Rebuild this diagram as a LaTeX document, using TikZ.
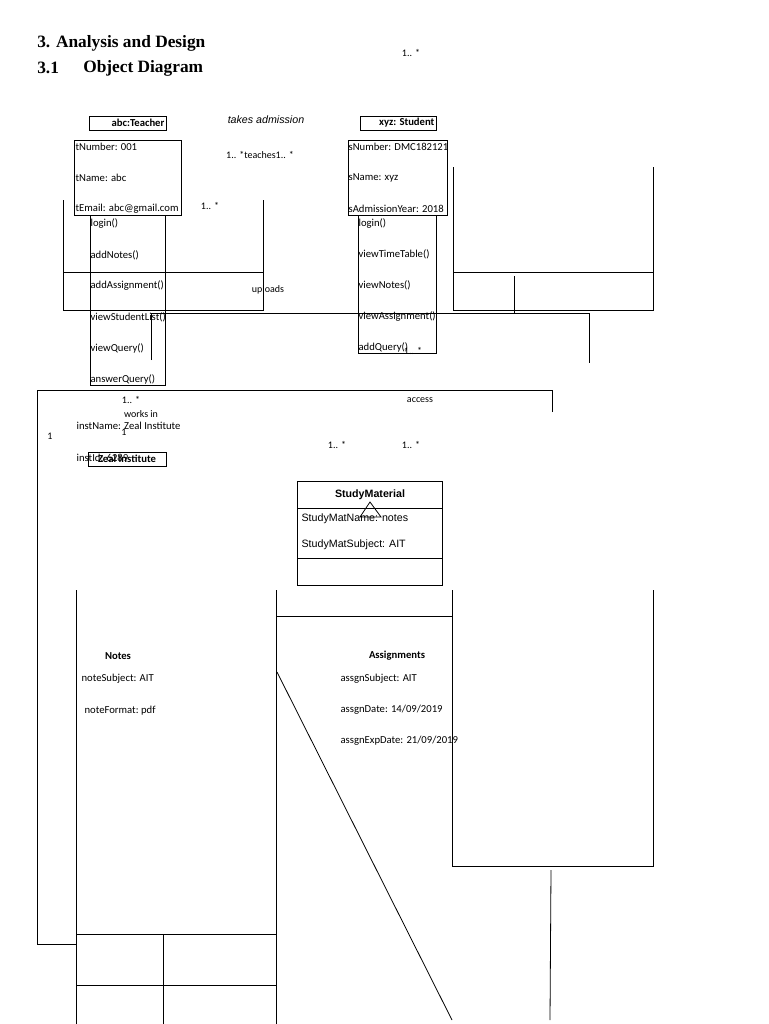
\documentclass[tikz,border=0pt]{standalone}
\usepackage{fontspec}
\setmainfont{Liberation Serif}
\newfontfamily\calib{Carlito}
\newfontfamily\arial{Liberation Sans}
\begin{document}
\begin{tikzpicture}[x=0.75pt,y=-0.75pt,
line/.style={line width=0.6pt},
head/.style={font=\fontsize{13}{15}\selectfont\bfseries,anchor=west,inner sep=0pt},
attr/.style={font=\calib\fontsize{8}{9}\selectfont,anchor=west,inner sep=1pt},
title/.style={font=\calib\fontsize{8}{9}\selectfont\bfseries,inner sep=1pt},
lab/.style={font=\calib\fontsize{7.5}{9}\selectfont,inner sep=1pt},
alab/.style={font=\arial\fontsize{8}{9}\selectfont,inner sep=1pt}
]
\fill[white] (0,0) rectangle (768,1024);
\useasboundingbox (0,0) rectangle (768,1024);

% headings
\node[head] (h1) at (37,43) {3. Analysis and Design};
\node[head] (h2) at (37,68) {3.1};
\node[head] (h3) at (83,68) {Object Diagram};
\node[lab] (m0) at (411,53) {1.. *};

% teacher object
\draw[line] (89,116) rectangle (166,130);
\node[title,anchor=east] (tchname) at (166,123) {abc:Teacher};
\draw[line] (74,140) rectangle (181,215);
\node[attr] (tnum) at (74,147) {tNumber: 001};
\node[attr] (tname) at (74,178) {tName: abc};
\node[attr] (temail) at (74,209) {tEmail: abc@gmail.com};
\draw[line] (90,215) rectangle (165,385);
\foreach \t [count=\i] in {login(),addNotes(),addAssignment(),viewStudentList(),viewQuery(),answerQuery()}
  \node[attr] (top\i) at (89,{224+(\i-1)*31}) {\t};

% student object
\draw[line] (360,116) rectangle (436,130);
\node[title,anchor=east] (stdname) at (436,123) {xyz: Student};
\draw[line] (348,140) rectangle (447,215);
\node[attr] (snum) at (347,147) {sNumber: DMC182121};
\node[attr] (sname) at (347,178) {sName: xyz};
\node[attr] (syear) at (347,209) {sAdmissionYear: 2018};
\draw[line] (358,215) rectangle (436,353);
\foreach \t [count=\i] in {login(),viewTimeTable(),viewNotes(),viewAssignment(),addQuery()}
  \node[attr] (sop\i) at (357,{224+(\i-1)*30.8}) {\t};

% loose frames and lines
\draw[line] (63,200) -- (63,310) -- (263,310) -- (263,200);
\draw[line] (63,272) -- (263,272);
\draw[line] (453,167) -- (453,310) -- (653,310) -- (653,167);
\draw[line] (453,272) -- (653,272);
\draw[line] (514,276) -- (514,313);
\draw[line] (151,360) -- (151,313) -- (589,313) -- (589,363);
\draw[line] (552,412) -- (552,390) -- (37,390) -- (37,944) -- (76,944);

% association labels
\node[alab,font=\arial\itshape\fontsize{8}{9}\selectfont] (takes) at (266,120) {takes admission};
\node[lab] (teaches) at (260,155) {1.. *teaches1.. *};
\node[lab] (m1) at (210,206) {1.. *};
\node[lab] (uploads) at (268,290) {uploads};
\node[lab] (m2) at (413,351) {1.. *};
\node[lab] (m3) at (131,400) {1.. *};
\node[lab] (works) at (141,414) {works in};
\node[lab] (m4) at (50,436) {1};
\node[lab] (access) at (420,400) {access};
\node[lab] (m5) at (337,445) {1.. *};
\node[lab] (m6) at (411,445) {1.. *};

% institute object
\node[attr] (iname) at (75,426) {instName: Zeal Institute};
\node[lab] (m7) at (124,432) {1};
\node[attr] (iid) at (75,458) {instId: 6289};
\draw[line] (88,452) rectangle (166,466);
\node[title] (instname) at (127,459) {Zeal Institute};

% study material class
\draw[line] (297,481) rectangle (442,585);
\draw[line] (297,508) -- (442,508);
\draw[line] (297,558) -- (442,558);
\node[alab,font=\arial\bfseries\fontsize{8}{9}\selectfont] (smname) at (370,495) {StudyMaterial};
\node[alab,anchor=west] (smatt1) at (300,519) {StudyMatName: notes};
\node[alab,anchor=west] (smatt2) at (300,545) {StudyMatSubject: AIT};
\draw[line] (370,502) -- (360,517) -- (381,517) -- cycle;

% notes and assignments
\draw[line] (76,590) -- (76,1024);
\draw[line] (276,590) -- (276,1024);
\draw[line] (76,934) -- (276,934);
\draw[line] (76,985) -- (276,985);
\draw[line] (163,934) -- (163,1024);
\draw[line] (276,616) -- (452,616);
\draw[line] (452,590) -- (452,866) -- (653,866) -- (653,590);
\draw[line] (277,672) -- (452,1020);
\draw[line] (551,870) -- (550,1020);
\node[title] (notes) at (118,656) {Notes};
\node[attr] (nsub) at (80,679) {noteSubject: AIT};
\node[attr] (nfmt) at (83,711) {noteFormat:\ pdf};
\node[title] (assgn) at (397,656) {Assignments};
\node[attr] (asub) at (339,679) {assgnSubject: AIT};
\node[attr] (adate) at (339,710) {assgnDate: 14/09/2019};
\node[attr] (aexp) at (339,741) {assgnExpDate: 21/09/2019};
\end{tikzpicture}
\end{document}
